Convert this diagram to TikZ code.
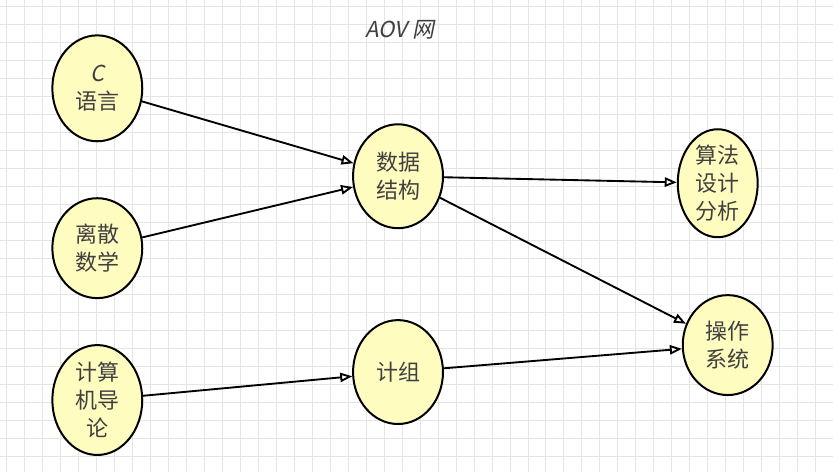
\documentclass[tikz,border=0pt]{standalone}
\usepackage{fontspec}
\newfontfamily\cjk{Noto Sans CJK SC}
\newfontfamily\cjki[FakeSlant=0.2]{Noto Sans CJK SC}
\usetikzlibrary{shapes.geometric,arrows.meta}
\begin{document}
\begin{tikzpicture}[x=0.75pt,y=-0.75pt,
  vert/.style={ellipse,draw=black,line width=1.5pt,fill=yellow!25,minimum width=#1*1.5pt,inner sep=0pt,align=center,font=\cjk\fontsize{16.5}{21}\selectfont,text=black!75},
  edge/.style={line width=1.4pt,-{Triangle[open,length=9pt,width=7pt]}}]
\fill[white] (0,0) rectangle (833,472);
\foreach \x in {6,24,...,833} \draw[black!10,line width=0.6pt] (\x,0) -- (\x,472);
\foreach \y in {6,24,...,472} \draw[black!10,line width=0.6pt] (0,\y) -- (833,\y);
\useasboundingbox (0,0) rectangle (833,472);
\node[font=\cjki\fontsize{16.5}{20}\selectfont,text=black!75] (title) at (400,29) {AOV 网};
\node[vert=45,minimum height=106*0.75pt] (c) at (97,88) {{\cjki C}\\语言};
\node[vert=45,minimum height=100*0.75pt] (ls) at (97,248) {离散\\数学};
\node[vert=45,minimum height=110*0.75pt] (jsj) at (97,400) {计算\\机导\\论};
\node[vert=45,minimum height=104*0.75pt] (sj) at (398,176) {数据\\结构};
\node[vert=45,minimum height=104*0.75pt] (jz) at (398,372) {计组};
\node[vert=40,minimum height=100*0.75pt] (sf) at (718,183) {算法\\设计\\分析};
\node[vert=45,minimum height=100*0.75pt] (cz) at (728,345) {操作\\系统};
\draw[edge] (c) -- (sj);
\draw[edge] (ls) -- (sj);
\draw[edge] (jsj) -- (jz);
\draw[edge] (sj) -- (sf);
\draw[edge] (sj) -- (cz);
\draw[edge] (jz) -- (cz);
\end{tikzpicture}
\end{document}
